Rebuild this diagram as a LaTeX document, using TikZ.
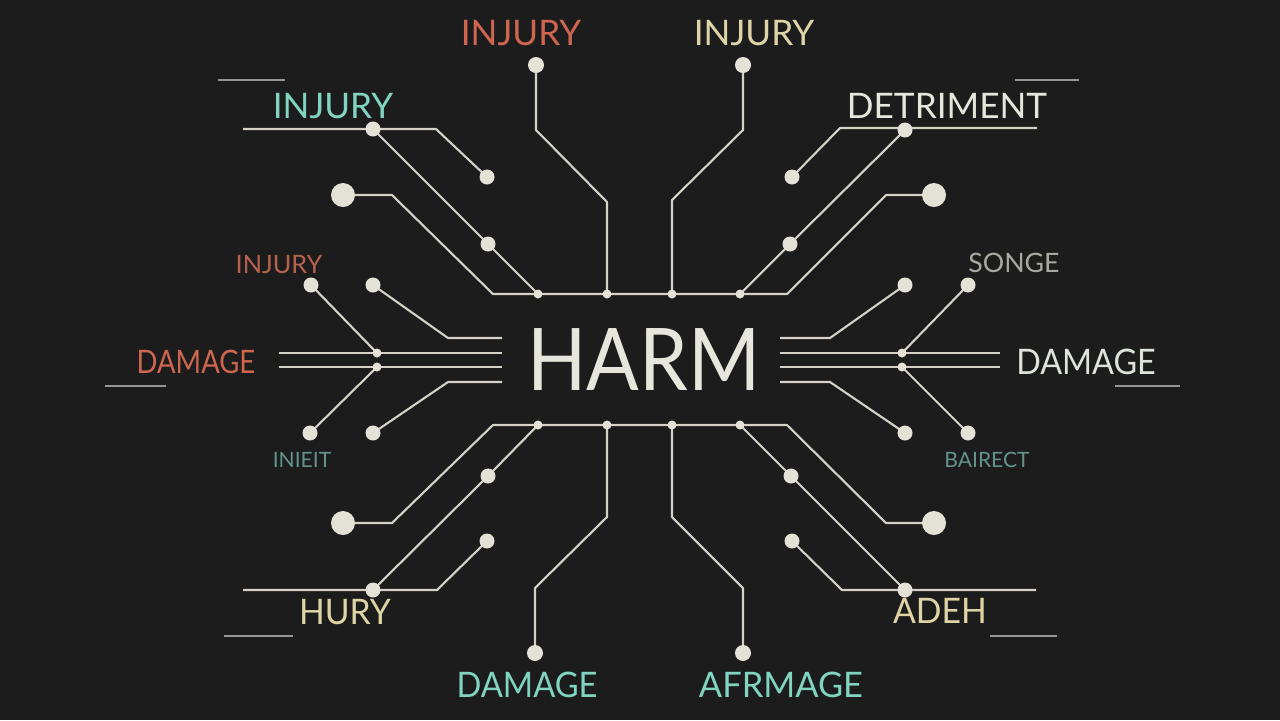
\documentclass[tikz,border=0pt]{standalone}
\usepackage{fontspec}
\setmainfont{Lato}
\pgfdeclarelayer{wires}
\pgfsetlayers{wires,main}

\definecolor{bgdark}{RGB}{28,28,28}
\definecolor{wirec}{RGB}{212,210,200}
\definecolor{dotc}{RGB}{228,226,214}
\definecolor{faint}{RGB}{150,150,146}
\definecolor{coral}{RGB}{206,102,80}
\definecolor{coraldim}{RGB}{182,98,78}
\definecolor{tealc}{RGB}{128,212,192}
\definecolor{tealdim}{RGB}{98,148,138}
\definecolor{sand}{RGB}{222,212,166}
\definecolor{chalk}{RGB}{230,230,220}
\definecolor{ash}{RGB}{168,168,162}

\newcommand{\squeeze}[2]{\scalebox{#1}[1]{#2}}

\tikzset{
  wire/.style={draw=wirec, line width=0.6pt, line join=round},
  rule/.style={draw=faint, line width=0.45pt},
  pin/.style={circle, fill=dotc, inner sep=0pt, minimum size=1.5mm},
  bigpin/.style={pin, minimum size=2.4mm},
  endpin/.style={pin, minimum size=1.6mm},
  joint/.style={pin, minimum size=0.9mm},
  lab/.style={anchor=base, inner sep=0pt, font=\fontsize{10}{12}\selectfont},
  smalllab/.style={lab, font=\fontsize{7.2}{9}\selectfont},
  tinylab/.style={lab, font=\fontsize{6.8}{8}\selectfont},
}

\begin{document}
\begin{tikzpicture}[x=0.1mm, y=-0.1mm, line cap=round]
  \useasboundingbox (0,0) rectangle (1280,720);

  % pins, top half
  \node[bigpin] (tbl) at (343,195) {};
  \node[bigpin] (tbr) at (934,195) {};
  \node[endpin] (tel) at (536,65) {};
  \node[endpin] (ter) at (743,65) {};
  \node[pin] (tla) at (487,177) {};
  \node[pin] (tlb) at (373,129) {};
  \node[pin] (tlc) at (488,244) {};
  \node[pin] (tra) at (792,177) {};
  \node[pin] (trb) at (905,130) {};
  \node[pin] (trc) at (790,244) {};
  \node[joint] (tj1) at (538,294) {};
  \node[joint] (tj2) at (607,294) {};
  \node[joint] (tj3) at (672,294) {};
  \node[joint] (tj4) at (740,294) {};

  % pins, bottom half
  \node[bigpin] (bbl) at (343,523) {};
  \node[bigpin] (bbr) at (934,523) {};
  \node[endpin] (bel) at (535,653) {};
  \node[endpin] (ber) at (743,653) {};
  \node[pin] (bla) at (487,541) {};
  \node[pin] (blb) at (373,590) {};
  \node[pin] (blc) at (488,476) {};
  \node[pin] (bra) at (792,541) {};
  \node[pin] (brb) at (905,590) {};
  \node[pin] (brc) at (791,476) {};
  \node[joint] (bj1) at (538,425) {};
  \node[joint] (bj2) at (607,425) {};
  \node[joint] (bj3) at (672,425) {};
  \node[joint] (bj4) at (740,425) {};

  % pins, sides
  \node[pin] (mla) at (311,285) {};
  \node[pin] (mlb) at (373,285) {};
  \node[pin] (mlc) at (310,433) {};
  \node[pin] (mld) at (373,433) {};
  \node[joint] (mlj1) at (377,353) {};
  \node[joint] (mlj2) at (377,367) {};
  \node[pin] (mra) at (968,285) {};
  \node[pin] (mrb) at (905,285) {};
  \node[pin] (mrc) at (968,433) {};
  \node[pin] (mrd) at (905,433) {};
  \node[joint] (mrj1) at (902,353) {};
  \node[joint] (mrj2) at (902,367) {};

  % free ends
  \coordinate (tlend) at (243,129);
  \coordinate (trend) at (1037,128);
  \coordinate (blend) at (243,590);
  \coordinate (brend) at (1036,590);

  \begin{pgfonlayer}{wires}
    \fill[bgdark] (0,0) rectangle (1280,720);
    % top
    \draw[wire] (tbl.center) -- (392,195) -- (493,294) -- (787,294) -- (886,195) -- (tbr.center);
    \draw[wire] (tel.center) -- (536,130) -- (607,202) -- (tj2.center);
    \draw[wire] (ter.center) -- (743,130) -- (672,200) -- (tj3.center);
    \draw[wire] (tlend) -- (436,129) -- (tla.center);
    \draw[wire] (tlb.center) -- (tlc.center) -- (tj1.center);
    \draw[wire] (trend) -- (840,128) -- (tra.center);
    \draw[wire] (trb.center) -- (trc.center) -- (tj4.center);
    % bottom
    \draw[wire] (bbl.center) -- (392,523) -- (493,425) -- (787,425) -- (886,523) -- (bbr.center);
    \draw[wire] (bel.center) -- (535,588) -- (607,517) -- (bj2.center);
    \draw[wire] (ber.center) -- (743,588) -- (672,517) -- (bj3.center);
    \draw[wire] (blend) -- (437,590) -- (bla.center);
    \draw[wire] (blb.center) -- (blc.center) -- (bj1.center);
    \draw[wire] (brend) -- (842,590) -- (bra.center);
    \draw[wire] (brb.center) -- (brc.center) -- (bj4.center);
    % left
    \draw[wire] (mla.center) -- (mlj1.center);
    \draw[wire] (mlb.center) -- (448,338) -- (502,338);
    \draw[wire] (279,353) -- (502,353) (279,367) -- (502,367);
    \draw[wire] (mlj2.center) -- (mlc.center);
    \draw[wire] (502,382) -- (448,382) -- (mld.center);
    % right
    \draw[wire] (mra.center) -- (mrj1.center);
    \draw[wire] (mrb.center) -- (830,338) -- (780,338);
    \draw[wire] (780,353) -- (1000,353) (780,367) -- (1000,367);
    \draw[wire] (mrj2.center) -- (mrc.center);
    \draw[wire] (780,382) -- (830,382) -- (mrd.center);
    % loose rules
    \draw[rule] (218,80) -- (285,80) (1015,80) -- (1079,80);
    \draw[rule] (105,386) -- (166,386) (1115,386) -- (1180,386);
    \draw[rule] (224,636) -- (293,636) (990,636) -- (1057,636);
  \end{pgfonlayer}

  % labels
  \node[lab, text=chalk, font=\fontsize{24.6}{28}\selectfont] (harm) at (644,390) {\squeeze{0.9}{HARM}};
  \node[lab, text=coral] (inj1) at (521,45) {INJURY};
  \node[lab, text=sand] (inj2) at (754,45) {INJURY};
  \node[lab, text=tealc] (inj3) at (333,118) {INJURY};
  \node[lab, text=chalk] (detr) at (947,118) {DETRIMENT};
  \node[smalllab, text=coraldim] (inj4) at (279,273) {INJURY};
  \node[tinylab, text=ash, font=\fontsize{7.6}{9}\selectfont] (songe) at (1014,272) {SONGE};
  \node[lab, text=coral, font=\fontsize{9.2}{11}\selectfont] (dmgl) at (196,373) {\squeeze{0.85}{DAMAGE}};
  \node[lab, text=chalk!92!tealc] (dmgr) at (1086,374) {\squeeze{0.92}{DAMAGE}};
  \node[tinylab, text=tealdim, font=\fontsize{6}{7}\selectfont] (iniet) at (302,467) {INIEIT};
  \node[tinylab, text=tealdim, font=\fontsize{6}{7}\selectfont] (bairect) at (987,467) {BAIRECT};
  \node[lab, text=sand] (hury) at (345,624) {\squeeze{0.96}{HURY}};
  \node[lab, text=sand] (adeh) at (940,623) {\squeeze{0.96}{ADEH}};
  \node[lab, text=tealc] (dmgb) at (527,697) {\squeeze{0.93}{DAMAGE}};
  \node[lab, text=tealc] (afrm) at (781,697) {\squeeze{0.98}{AFRMAGE}};
\end{tikzpicture}
\end{document}
